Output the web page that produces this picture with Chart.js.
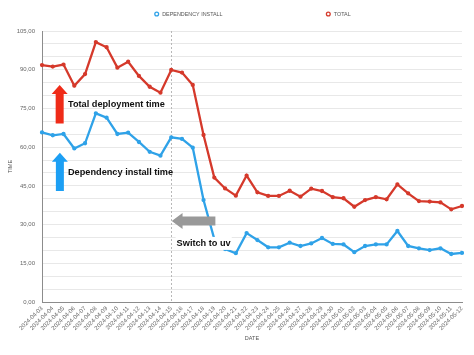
<!DOCTYPE html>
<html>
<head>
<meta charset="utf-8">
<script src="https://cdn.jsdelivr.net/npm/chart.js@4.4.1/dist/chart.umd.min.js"></script>
<style>
html,body{margin:0;padding:0;background:#fff;}
canvas{display:block;}
</style>
</head>
<body>
<canvas id="c" width="474" height="355"></canvas>
<script>
const dates = [
  "2024-04-03","2024-04-04","2024-04-05","2024-04-06","2024-04-07","2024-04-08","2024-04-09","2024-04-10","2024-04-11","2024-04-12",
  "2024-04-13","2024-04-14","2024-04-15","2024-04-16","2024-04-17","2024-04-18","2024-04-19","2024-04-20","2024-04-21","2024-04-22",
  "2024-04-23","2024-04-24","2024-04-25","2024-04-26","2024-04-27","2024-04-28","2024-04-29","2024-04-30","2024-05-01","2024-05-02",
  "2024-05-03","2024-05-04","2024-05-05","2024-05-06","2024-05-07","2024-05-08","2024-05-09","2024-05-10","2024-05-11","2024-05-12"
];
const dependencyInstall = [
  65.7, 64.6, 65.1, 59.5, 61.5, 73.1, 71.4, 65.1, 65.6, 62.0,
  58.2, 56.7, 63.8, 63.2, 59.8, 39.5, 24.4, 20.5, 18.9, 26.7,
  24.0, 21.2, 21.2, 23.0, 21.7, 22.7, 24.8, 22.5, 22.3, 19.3,
  21.7, 22.3, 22.3, 27.5, 21.7, 20.8, 20.1, 20.8, 18.6, 19.0
];
const total = [
  91.8, 91.2, 92.0, 83.8, 88.3, 100.7, 98.7, 90.8, 93.1, 87.6,
  83.4, 81.1, 89.9, 88.9, 84.1, 64.7, 48.2, 44.0, 41.2, 49.0,
  42.5, 41.1, 41.1, 43.1, 40.8, 43.9, 43.0, 40.6, 40.2, 36.9,
  39.5, 40.6, 39.8, 45.6, 42.1, 39.1, 38.9, 38.6, 35.9, 37.2
];
const seriesNames = ["DEPENDENCY INSTALL", "TOTAL"];
const yTickValues = [0, 15, 30, 45, 60, 75, 90, 105];
const switchIndex = 12;

const FONT = "'Liberation Sans', Arial, Helvetica, sans-serif";
const BLUE = "#2fa2e8";
const RED = "#d5392b";

function fmt(v){ return v.toFixed(2).replace('.', ','); }

const legendPlugin = {
  id: 'customLegend',
  afterDraw(chart){
    const ctx = chart.ctx;
    ctx.save();
    ctx.font = "5.4px " + FONT;
    ctx.textBaseline = 'middle';
    ctx.textAlign = 'left';
    const items = [
      {x: 156.7, color: BLUE, text: seriesNames[0]},
      {x: 328.3, color: RED, text: seriesNames[1]}
    ];
    items.forEach(it => {
      ctx.beginPath();
      ctx.strokeStyle = it.color;
      ctx.lineWidth = 1.3;
      ctx.arc(it.x, 14, 1.9, 0, Math.PI*2);
      ctx.stroke();
      ctx.fillStyle = '#555';
      ctx.fillText(it.text, it.x + 5.5, 14.3);
    });
    ctx.restore();
  }
};

const dashedLinePlugin = {
  id: 'dashedLine',
  beforeDatasetsDraw(chart){
    const {ctx, chartArea, scales} = chart;
    const x = Math.round(scales.x.getPixelForValue(switchIndex)) + 0.5;
    ctx.save();
    ctx.strokeStyle = '#b8b8b8';
    ctx.lineWidth = 1;
    ctx.setLineDash([2, 2]);
    ctx.beginPath();
    ctx.moveTo(x, chartArea.top);
    ctx.lineTo(x, chartArea.bottom);
    ctx.stroke();
    ctx.restore();
  }
};

function upArrow(ctx, cx, tipY, headBaseY, bottomY, shaftW, headW, color){
  ctx.beginPath();
  ctx.moveTo(cx, tipY);
  ctx.lineTo(cx + headW/2, headBaseY);
  ctx.lineTo(cx + shaftW/2, headBaseY);
  ctx.lineTo(cx + shaftW/2, bottomY);
  ctx.lineTo(cx - shaftW/2, bottomY);
  ctx.lineTo(cx - shaftW/2, headBaseY);
  ctx.lineTo(cx - headW/2, headBaseY);
  ctx.closePath();
  ctx.fillStyle = color;
  ctx.fill();
}

const annotationPlugin = {
  id: 'annotations',
  afterDatasetsDraw(chart){
    const {ctx, scales} = chart;
    const X = v => scales.x.getPixelForValue(v);
    const Y = v => scales.y.getPixelForValue(v);
    ctx.save();
    // red arrow
    upArrow(ctx, X(1.64), Y(84.1), Y(80.6), Y(69.2), 8, 16, '#ef2b18');
    // blue arrow
    upArrow(ctx, X(1.66), Y(57.8), Y(54.3), Y(43.0), 8, 16, '#1c9ff4');
    // gray left arrow
    const tipX = X(12.05), cy = Y(31.4), headX = X(13.05), endX = X(16.1);
    ctx.beginPath();
    ctx.moveTo(tipX, cy);
    ctx.lineTo(headX, cy - 8);
    ctx.lineTo(headX, cy - 4.5);
    ctx.lineTo(endX, cy - 4.5);
    ctx.lineTo(endX, cy + 4.5);
    ctx.lineTo(headX, cy + 4.5);
    ctx.lineTo(headX, cy + 8);
    ctx.closePath();
    ctx.fillStyle = '#999999';
    ctx.fill();
    // texts
    ctx.font = "bold 9.2px " + FONT;
    ctx.textBaseline = 'middle';
    ctx.textAlign = 'left';
    ctx.fillStyle = '#111';
    ctx.fillText('Total deployment time', X(2.41), Y(76.7));
    ctx.fillText('Dependency install time', X(2.41), Y(50.0));
    const sx = X(12.5), sy = Y(22.7);
    const w = ctx.measureText('Switch to uv').width;
    ctx.fillStyle = '#fff';
    ctx.fillRect(sx - 1, sy - 6.5, w + 2, 13);
    ctx.fillStyle = '#111';
    ctx.fillText('Switch to uv', sx, sy);
    ctx.restore();
  }
};

new Chart(document.getElementById('c'), {
  type: 'line',
  data: {
    labels: dates,
    datasets: [
      {label: seriesNames[0], data: dependencyInstall, borderColor: BLUE, backgroundColor: BLUE,
       borderWidth: 2.3, pointRadius: 1, pointHoverRadius: 1, tension: 0, fill: false},
      {label: seriesNames[1], data: total, borderColor: RED, backgroundColor: RED,
       borderWidth: 2.3, pointRadius: 1, pointHoverRadius: 1, tension: 0, fill: false}
    ]
  },
  options: {
    responsive: false,
    animation: false,
    devicePixelRatio: 1,
    layout: {padding: {top: 31, right: 12, left: 0, bottom: 0}},
    plugins: {legend: {display: false}, tooltip: {enabled: false}},
    scales: {
      x: {
        type: 'category',
        grid: {display: true, drawOnChartArea: false, drawTicks: false},
        border: {display: true, color: '#8c8c8c', width: 1},
        ticks: {autoSkip: false, maxRotation: 45, minRotation: 45, padding: 3,
                font: {size: 6, family: FONT}, color: '#666'},
        title: {display: true, text: 'DATE', font: {size: 5.5, family: FONT}, color: '#555',
                padding: {top: 0, bottom: 13}},
        afterFit(scale){ scale.height = 53; }
      },
      y: {
        min: 0, max: 105,
        grid: {color: '#e8e8e8', drawTicks: false, lineWidth: 1},
        border: {display: true, color: '#8c8c8c', width: 1},
        ticks: {stepSize: 5, padding: 7, font: {size: 6, family: FONT}, color: '#666',
                callback: v => yTickValues.includes(v) ? fmt(v) : ''},
        title: {display: true, text: 'TIME', font: {size: 5.5, family: FONT}, color: '#555',
                padding: {top: 7, bottom: 0}},
        afterFit(scale){ scale.width = 42; }
      }
    }
  },
  plugins: [dashedLinePlugin, annotationPlugin, legendPlugin]
});
</script>
</body>
</html>
